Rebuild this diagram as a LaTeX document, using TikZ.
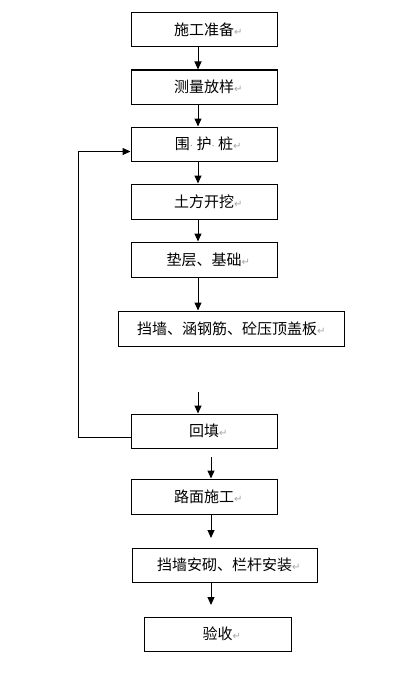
\documentclass[tikz,border=0pt]{standalone}
\usepackage{fontspec}
\newfontfamily\cjk{Noto Sans CJK SC}
\newfontfamily\dejavu{DejaVu Sans}
\usetikzlibrary{arrows.meta}
\newcommand\retmark{\rlap{\color{black!35}\dejavu\fontsize{10}{10}\selectfont ↵}}
\newcommand\spmark{{\color{black!45}\dejavu\fontsize{10}{10}\selectfont ·}}
\begin{document}
\begin{tikzpicture}[x=1pt,y=-1pt,
  box/.style={draw, line width=1pt, rectangle, inner sep=0pt, minimum height=34pt,
    font=\cjk\fontsize{15}{15}\selectfont},
  arr/.style={line width=1pt, -{Triangle[width=7pt,length=8pt]}},
  ln/.style={line width=1pt}]
\useasboundingbox (0,0) rectangle (420,685);
\fill[white] (0,0) rectangle (420,685);
\node[box, minimum width=146pt] (b1) at (204,29.5) {施工准备\retmark};
\node[box, minimum width=146pt] (b2) at (204,87) {测量放样\retmark};
\node[box, minimum width=146pt] (b3) at (204,144) {围\spmark\ 护\spmark\ 桩\retmark};
\node[box, minimum width=146pt, minimum height=35pt] (b4) at (204,201.5) {土方开挖\retmark};
\node[box, minimum width=146pt, minimum height=35pt] (b5) at (204,259.5) {垫层、基础\retmark};
\node[box, minimum width=226pt, minimum height=35pt] (b6) at (231,328.5) {\hspace*{-8pt}挡墙、涵钢筋、砼压顶盖板\retmark};
\node[box, minimum width=146pt] (b7) at (204,431) {回填\retmark};
\node[box, minimum width=146pt, minimum height=35pt] (b8) at (204,496.5) {路面施工\retmark};
\node[box, minimum width=185pt] (b9) at (224.5,565) {挡墙安砌、栏杆安装\retmark};
\node[box, minimum width=147pt] (b10) at (217.5,634) {验收\retmark};
\coordinate (xa) at (198,0);
\coordinate (xb) at (211,0);
\coordinate (f1) at (198,392);
\coordinate (f2) at (211,457);
\coordinate (f3) at (211,538);
\coordinate (f4) at (211,605);
\coordinate (lp) at (78,0);
\coordinate (ya) at (0,437);
\coordinate (yb) at (0,151.5);
\draw[arr] (b1.south -| xa) -- (b2.north -| xa);
\draw[arr] (b2.south -| xa) -- (b3.north -| xa);
\draw[arr] (b3.south -| xa) -- (b4.north -| xa);
\draw[arr] (b4.south -| xa) -- (b5.north -| xa);
\draw[arr] (b5.south -| xa) -- (b6.north -| xa);
\draw[arr] (f1) -- (b7.north -| f1);
\draw[arr] (f2) -- (b8.north -| f2);
\draw[arr] (b8.south -| xb) -- (f3);
\draw[arr] (b9.south -| xb) -- (f4);
\draw[arr] (b7.west |- ya) -| (lp |- ya) |- (b3.west |- yb);
\end{tikzpicture}
\end{document}
